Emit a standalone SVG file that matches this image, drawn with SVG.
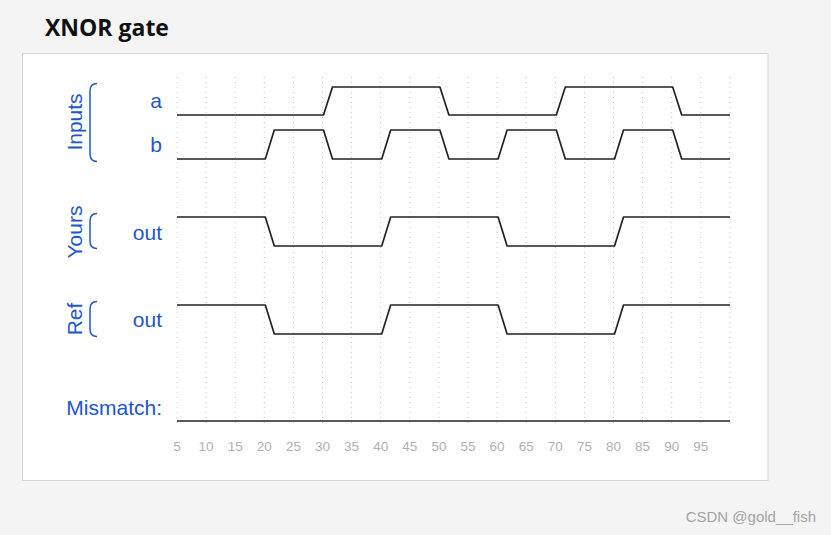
<svg xmlns="http://www.w3.org/2000/svg" width="831" height="535" viewBox="0 0 831 535">
<style>
.lbl{font-family:"Liberation Sans",Arial,sans-serif;font-size:21px;fill:#2255cc}
.ax{font-family:"Liberation Sans",Arial,sans-serif;font-size:13.5px;fill:#b0b0b0;text-anchor:middle}
.grid{stroke:#c4c4c4;stroke-width:1;stroke-dasharray:1 4}
.wave{fill:none;stroke:#222;stroke-width:1.7;stroke-linejoin:round}
.br{fill:none;stroke:#2255cc;stroke-width:1.5}
</style>
<rect x="0" y="0" width="831" height="535" fill="#f4f4f4"/>
<text x="45" y="36" font-family="'Open Sans','Noto Sans',sans-serif" font-weight="bold" font-size="23" fill="#111">XNOR gate</text>
<rect x="22.5" y="53.5" width="745.5" height="427" fill="#ffffff" stroke="#d6d6d6" stroke-width="1"/>
<g id="grid">
<line class="grid" x1="177" y1="77" x2="177" y2="425"/>
<line class="grid" x1="206.1" y1="77" x2="206.1" y2="425"/>
<line class="grid" x1="235.2" y1="77" x2="235.2" y2="425"/>
<line class="grid" x1="264.3" y1="77" x2="264.3" y2="425"/>
<line class="grid" x1="293.4" y1="77" x2="293.4" y2="425"/>
<line class="grid" x1="322.5" y1="77" x2="322.5" y2="425"/>
<line class="grid" x1="351.6" y1="77" x2="351.6" y2="425"/>
<line class="grid" x1="380.7" y1="77" x2="380.7" y2="425"/>
<line class="grid" x1="409.8" y1="77" x2="409.8" y2="425"/>
<line class="grid" x1="438.9" y1="77" x2="438.9" y2="425"/>
<line class="grid" x1="468" y1="77" x2="468" y2="425"/>
<line class="grid" x1="497.1" y1="77" x2="497.1" y2="425"/>
<line class="grid" x1="526.2" y1="77" x2="526.2" y2="425"/>
<line class="grid" x1="555.3" y1="77" x2="555.3" y2="425"/>
<line class="grid" x1="584.4" y1="77" x2="584.4" y2="425"/>
<line class="grid" x1="613.5" y1="77" x2="613.5" y2="425"/>
<line class="grid" x1="642.6" y1="77" x2="642.6" y2="425"/>
<line class="grid" x1="671.7" y1="77" x2="671.7" y2="425"/>
<line class="grid" x1="700.8" y1="77" x2="700.8" y2="425"/>
<line class="grid" x1="729.9" y1="77" x2="729.9" y2="425"/>
</g>
<g id="axis">
<text class="ax" x="177" y="451">5</text>
<text class="ax" x="206.1" y="451">10</text>
<text class="ax" x="235.2" y="451">15</text>
<text class="ax" x="264.3" y="451">20</text>
<text class="ax" x="293.4" y="451">25</text>
<text class="ax" x="322.5" y="451">30</text>
<text class="ax" x="351.6" y="451">35</text>
<text class="ax" x="380.7" y="451">40</text>
<text class="ax" x="409.8" y="451">45</text>
<text class="ax" x="438.9" y="451">50</text>
<text class="ax" x="468" y="451">55</text>
<text class="ax" x="497.1" y="451">60</text>
<text class="ax" x="526.2" y="451">65</text>
<text class="ax" x="555.3" y="451">70</text>
<text class="ax" x="584.4" y="451">75</text>
<text class="ax" x="613.5" y="451">80</text>
<text class="ax" x="642.6" y="451">85</text>
<text class="ax" x="671.7" y="451">90</text>
<text class="ax" x="700.8" y="451">95</text>
</g>
<g id="groups">
<g id="inputs-group">
<text class="lbl" transform="translate(82,122) rotate(-90)" text-anchor="middle">Inputs</text>
<path class="br" d="M97,83.5 Q90,83.5 90,91 V154 Q90,161.5 97,161.5"/>
</g>
<g id="yours-group">
<text class="lbl" transform="translate(82,232) rotate(-90)" text-anchor="middle">Yours</text>
<path class="br" d="M97,213.5 Q90,213.5 90,221 V241 Q90,248.5 97,248.5"/>
</g>
<g id="ref-group">
<text class="lbl" transform="translate(82,319) rotate(-90)" text-anchor="middle">Ref</text>
<path class="br" d="M97,301.5 Q90,301.5 90,309 V329 Q90,336.5 97,336.5"/>
</g>
</g>
<g id="signal-a">
<text class="lbl" x="162" y="108" text-anchor="end">a</text>
<path class="wave" d="M177,115 H323.5 L332.5,87 H439.9 L448.9,115 H556.3 L565.3,87 H672.7 L681.7,115 H730"/>
</g>
<g id="signal-b">
<text class="lbl" x="162" y="152" text-anchor="end">b</text>
<path class="wave" d="M177,159 H265.3 L274.3,130 H323.5 L332.5,159 H381.7 L390.7,130 H439.9 L448.9,159 H498.1 L507.1,130 H556.3 L565.3,159 H614.5 L623.5,130 H672.7 L681.7,159 H730"/>
</g>
<g id="signal-yours-out">
<text class="lbl" x="162" y="240" text-anchor="end">out</text>
<path class="wave" d="M177,217 H265.3 L274.3,246 H381.7 L390.7,217 H498.1 L507.1,246 H614.5 L623.5,217 H730"/>
</g>
<g id="signal-ref-out">
<text class="lbl" x="162" y="327" text-anchor="end">out</text>
<path class="wave" d="M177,305 H265.3 L274.3,334 H381.7 L390.7,305 H498.1 L507.1,334 H614.5 L623.5,305 H730"/>
</g>
<g id="signal-mismatch">
<text class="lbl" x="162" y="415" text-anchor="end">Mismatch:</text>
<path class="wave" d="M177,421 H730"/>
</g>
<text x="816" y="522" text-anchor="end" font-family="'Liberation Sans',Arial,sans-serif" font-size="15" fill="#a3a3a3">CSDN @gold__fish</text>
</svg>
